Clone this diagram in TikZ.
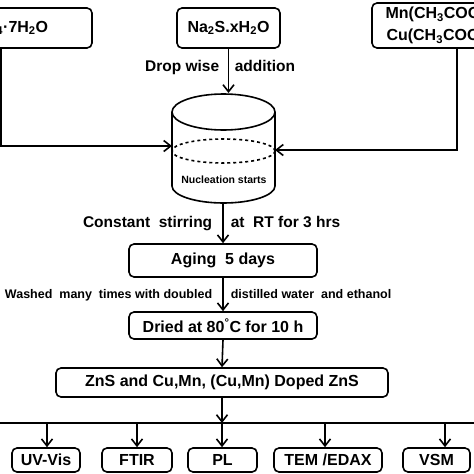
\documentclass[tikz,border=0pt]{standalone}
\usepackage{fontspec}
\setmainfont{Liberation Sans}
\usetikzlibrary{arrows.meta}

\begin{document}
\begin{tikzpicture}
[ x=1pt, y=-1pt, line width=1.6pt
, box/.style={rectangle, draw, rounded corners=5pt, inner sep=0pt, align=center, font=\bfseries\fontsize{16}{22}\selectfont}
, note/.style={inner sep=0pt, font=\bfseries\fontsize{15.5}{18}\selectfont}
, smallnote/.style={inner sep=0pt, font=\bfseries\fontsize{12.5}{15}\selectfont}
, flow/.style={-{Straight Barb[length=7pt, width=11pt]}}
]
\useasboundingbox (0,0) rectangle (474,474);
\clip (0,0) rectangle (474,474);
% Precursors:
\node (zinc) [box, minimum width=182pt, minimum height=40pt] at (1,28) {ZnSO\textsubscript{4}·7H\textsubscript{2}O};
\node (sulf) [box, minimum width=103pt, minimum height=40pt] at (228.5,28) {Na\textsubscript{2}S.xH\textsubscript{2}O};
\node (acet) [box, minimum width=134pt, minimum height=45pt] at (439,25.5) {Mn(CH\textsubscript{3}COO)\textsubscript{2}\\Cu(CH\textsubscript{3}COO)\textsubscript{2}};
\coordinate (acetdrop) at (457,48);
% Reaction vessel:
\coordinate (cyltop) at (223.5,93);
\coordinate (cylL) at (172,146);
\coordinate (cylR) at (275,150);
\coordinate (cylB) at (223,203);
\draw (172,112) -- (172,186) arc[start angle=180, end angle=0, x radius=51.5, y radius=17] -- (275,112);
\draw (223.5,112) ellipse [x radius=51.5, y radius=18];
\draw [dashed] (223.5,151) ellipse [x radius=51.5, y radius=12];
\node (nucl) [inner sep=0pt, anchor=base, font=\bfseries\fontsize{10.5}{12}\selectfont] at (224,183) {Nucleation starts};
% Steps:
\node (aging) [box, minimum width=188pt, minimum height=33pt] at (223,260.5) {Aging\ \ 5 days};
\node (dried) [box, minimum width=188pt, minimum height=27pt] at (223,325.5) {Dried at 80\textsuperscript{°}C for 10 h};
\node (doped) [box, minimum width=332pt, minimum height=29pt] at (222,382.5) {ZnS and Cu,Mn, (Cu,Mn) Doped ZnS};
% Arrow labels:
\node (drop) [note, anchor=base east] at (220,71) {Drop wise};
\node (addi) [note, anchor=base west] at (234,71) {addition};
\node (stir) [note, anchor=base east] at (213,227) {Constant\ \ stirring};
\node (rt) [note, anchor=base west] at (230,227) {at\ \ RT for 3 hrs};
\node (wash) [smallnote, anchor=base east] at (213,298) {Washed\ \ many\ \ times with doubled};
\node (dist) [smallnote, anchor=base west] at (230,298) {distilled water\ \ and ethanol};
% Characterisation:
\node (uv) [box, minimum width=68pt, minimum height=24pt] at (46,460) {UV-Vis};
\node (ftir) [box, minimum width=70pt, minimum height=24pt] at (137,460) {FTIR};
\node (pl) [box, minimum width=69pt, minimum height=24pt] at (222.5,460) {PL};
\node (tem) [box, minimum width=108pt, minimum height=24pt] at (328,460) {TEM /EDAX};
\node (vsm) [box, minimum width=67pt, minimum height=24pt] at (436.5,460) {VSM};
\coordinate (busL) at (0,423);
\coordinate (busR) at (474,423);
\coordinate (busU) at (47,423);
\coordinate (busF) at (137,423);
\coordinate (busP) at (222,423);
\coordinate (busT) at (325,423);
\coordinate (busV) at (445,423);
% Connectors:
\draw [flow] (sulf.south) -- (sulf.south |- cyltop);
\draw [flow] (zinc.south) |- (cylL);
\draw [flow] (acetdrop) |- (cylR);
\draw [flow] (cylB) -- (aging.north);
\draw [flow] (aging.south) -- (dried.north);
\draw [flow] (dried.south) -- (doped.north);
\draw [flow] (doped.south) -- (doped.south |- busL);
\draw (busL) -- (busR);
\draw [flow] (busU) -- (busU |- uv.north);
\draw [flow] (busF) -- (busF |- ftir.north);
\draw [flow] (busP) -- (busP |- pl.north);
\draw [flow] (busT) -- (busT |- tem.north);
\draw [flow] (busV) -- (busV |- vsm.north);
\end{tikzpicture}
\end{document}
